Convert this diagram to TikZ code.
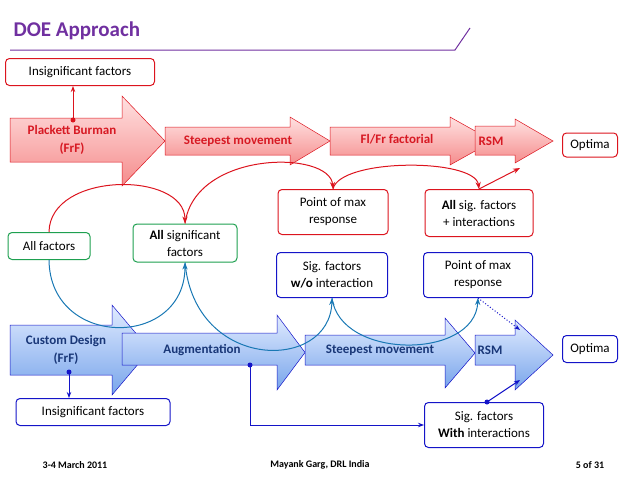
\documentclass[tikz,border=0pt]{standalone}
\usepackage{fontspec}
\setmainfont{Carlito}
\usetikzlibrary{arrows.meta}
\definecolor{rline}{RGB}{220,20,30}
\definecolor{rtop}{RGB}{255,225,225}
\definecolor{rbot}{RGB}{245,140,140}
\definecolor{rtext}{RGB}{215,25,35}
\definecolor{bline}{RGB}{20,20,200}
\definecolor{btop}{RGB}{225,235,255}
\definecolor{bbot}{RGB}{120,165,235}
\definecolor{btext}{RGB}{25,55,120}
\definecolor{gline}{RGB}{30,160,80}
\definecolor{arcb}{RGB}{25,120,180}
\definecolor{ttl}{RGB}{112,48,160}
\tikzset{
  box/.style={draw, rounded corners=4pt, line width=1pt, fill=white, align=center, font=\fontsize{13}{17}\selectfont, inner sep=2pt},
  rbox/.style={box, draw=rline},
  bbox/.style={box, draw=bline},
  gbox/.style={box, draw=gline},
  lbl/.style={font=\fontsize{13}{18}\selectfont\bfseries, align=center},
  rarc/.style={draw=rline, line width=1pt, -{Stealth[length=7pt]}},
  barc/.style={draw=arcb, line width=1pt, -{Stealth[length=7pt]}},
  foot/.style={font=\fontsize{10}{12}\selectfont\bfseries}
}
% block arrow: body x1--x2, y1--y2; head x2--x3, y3--y4
\newcommand{\blockarrow}[8]{%
  \path[draw=#8line, top color=#8top, bottom color=#8bot, line width=0.5pt]
    (#1,#4) -- (#2,#4) -- (#2,#6) -- (#3,{(#6+#7)/2}) -- (#2,#7) -- (#2,#5) -- (#1,#5) -- cycle;}
\begin{document}
\begin{tikzpicture}[x=1pt, y=-1pt]
\useasboundingbox (0,0) rectangle (638,479);
% title
\node[anchor=west, font=\fontsize{21}{24}\selectfont\bfseries, text=ttl] (title) at (10,31) {DOE Approach};
\draw[ttl, line width=1pt] (10,50) -- (455,50) -- (470,28);
% red row
\blockarrow{10}{122}{165}{118}{162}{96}{186}{r}
\blockarrow{165}{290}{330}{127}{155}{117}{165}{r}
\blockarrow{330}{450}{493}{127}{155}{117}{165}{r}
\blockarrow{475}{515}{553}{126}{155}{119}{163}{r}
\node[lbl, text=rtext] (pb) at (72,140) {Plackett Burman\\(FrF)};
\node[lbl, text=rtext] (sm1) at (238,141) {Steepest movement};
\node[lbl, text=rtext] (ff) at (397,139) {Fl/Fr factorial};
\node[lbl, text=rtext] (rsm1) at (491,141) {RSM};
\node[rbox, minimum width=55pt, minimum height=24pt] (opt1) at (590,145) {Optima};
\node[rbox, minimum width=149pt, minimum height=27pt] (ins1) at (80,72) {Insignificant factors};
\coordinate (d1) at (73,120);
\fill[rline] (d1) circle (2.5pt);
\draw[rline, line width=1pt, -{Stealth[length=6pt]}] (d1) -- (ins1.south -| d1);
% boxes
\node[rbox, minimum width=110pt, minimum height=45pt] (pmr1) at (333,212) {Point of max\\response};
\node[rbox, minimum width=108pt, minimum height=47pt] (asf) at (479,213) {\textbf{All} sig. factors\\+ interactions};
\node[gbox, minimum width=82pt, minimum height=27pt] (allf) at (49,246) {All factors};
\node[gbox, minimum width=104pt, minimum height=38pt] (allsig) at (185,243) {\textbf{All} significant\\factors};
\node[bbox, minimum width=111pt, minimum height=45pt] (sfwo) at (332,275) {Sig. factors\\\textbf{w/o} interaction};
\node[bbox, minimum width=109pt, minimum height=45pt] (pmr2) at (478,275) {Point of max\\response};
% red arcs
\draw[rarc] (allf.north) .. controls (50,171) and (185,171) .. (allsig.north);
\draw[rarc] (allsig.north) .. controls (195,150) and (330,150) .. (pmr1.north);
\draw[rarc] (pmr1.north) .. controls (340,158) and (475,158) .. (asf.north);
\draw[rarc] (asf.north) -- (520,168);
% blue row
\blockarrow{10}{112}{150}{325}{375}{305}{395}{b}
\blockarrow{122}{277}{305}{333}{365}{315}{390}{b}
\blockarrow{305}{445}{475}{335}{365}{318}{388}{b}
\blockarrow{475}{515}{553}{335}{365}{320}{390}{b}
\node[lbl, text=btext] (cd) at (66,350) {Custom Design\\(FrF)};
\node[lbl, text=btext] (aug) at (202,350) {Augmentation};
\node[lbl, text=btext] (sm2) at (380,350) {Steepest movement};
\node[lbl, text=btext] (rsm2) at (490,350) {RSM};
\node[bbox, minimum width=55pt, minimum height=27pt] (opt2) at (590,349) {Optima};
\node[bbox, minimum width=154pt, minimum height=27pt] (ins2) at (93,412) {Insignificant factors};
\node[bbox, minimum width=119pt, minimum height=45pt] (sfw) at (484,425) {Sig. factors\\\textbf{With} interactions};
% blue arcs
\draw[barc] (allf.south) .. controls (50,349) and (185,349) .. (allsig.south);
\draw[barc] (allsig.south) .. controls (195,372) and (330,372) .. (sfwo.south);
\draw[barc] (sfwo.south) .. controls (340,360) and (475,360) .. (pmr2.south);
\draw[bline, line width=1pt, dotted, -{Stealth[length=6pt]}] (pmr2.south) -- (520,330);
% blue connectors
\coordinate (d2) at (69,372);
\coordinate (d3) at (250,365);
\coordinate (d4) at (487,402);
\fill[bline] (d2) circle (2.5pt) (d3) circle (2.5pt) (d4) circle (2.5pt);
\draw[bline, line width=1pt, -{Stealth[length=6pt]}] (d2) -- (ins2.north -| d2);
\draw[bline, line width=1pt, -{Stealth[length=6pt]}] (d3) |- (sfw.west);
\draw[bline, line width=1pt, -{Stealth[length=6pt]}] (d4) -- (520,380);
% footer
\node[foot] (date) at (75,465) {3-4 March 2011};
\node[foot] (auth) at (320,465) {Mayank Garg, DRL India};
\node[foot] (page) at (590,465) {5 of 31};
\end{tikzpicture}
\end{document}
